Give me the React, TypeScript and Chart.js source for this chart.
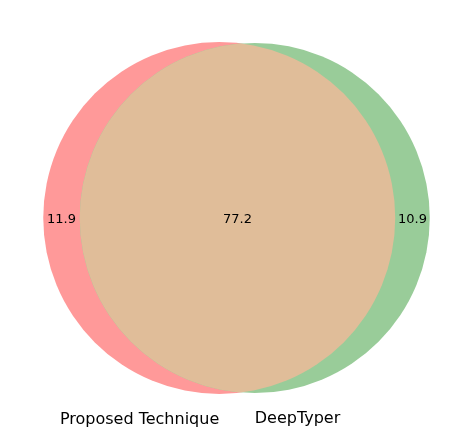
import React, { useEffect, useRef } from 'react';
import { Chart, registerables, Plugin } from 'chart.js';

Chart.register(...registerables);

// two-set venn: sizes of the regions
const setNames = ['Proposed Technique', 'DeepTyper'];
const onlyA = 11.9;
const onlyB = 10.9;
const bothAB = 77.2;

const colorA = '#ff9999';
const colorB = '#99cc99';
const colorAB = '#e0bd99';

const W = 474;
const H = 439;
const RADIUS_PX = 176; // pixel radius of set A
const CENTER_Y_PX = 218;

// circle geometry from the region sizes (area-proportional, like matplotlib_venn)
const rA = Math.sqrt((onlyA + bothAB) / Math.PI);
const rB = Math.sqrt((onlyB + bothAB) / Math.PI);

function lensArea(d: number) {
  const a = rA * rA * Math.acos((d * d + rA * rA - rB * rB) / (2 * d * rA));
  const b = rB * rB * Math.acos((d * d + rB * rB - rA * rA) / (2 * d * rB));
  const c = 0.5 * Math.sqrt((-d + rA + rB) * (d + rA - rB) * (d - rA + rB) * (d + rA + rB));
  return a + b - c;
}

function findDistance() {
  let lo = Math.abs(rA - rB) + 1e-9;
  let hi = rA + rB - 1e-9;
  for (let i = 0; i < 80; i++) {
    const mid = (lo + hi) / 2;
    if (lensArea(mid) > bothAB) lo = mid;
    else hi = mid;
  }
  return (lo + hi) / 2;
}

const dist = findDistance();
const cA = -dist / 2;
const cB = dist / 2;
const ppu = RADIUS_PX / rA;

const vennPlugin: Plugin = {
  id: 'venn',
  afterDraw(chart) {
    const { ctx } = chart;
    const x = chart.scales.x;
    const y = chart.scales.y;
    const px = (v: number) => x.getPixelForValue(v);
    const py = (v: number) => y.getPixelForValue(v);
    const len = (v: number) => x.getPixelForValue(v) - x.getPixelForValue(0);

    const circle = (cx: number, r: number) => {
      ctx.beginPath();
      ctx.arc(px(cx), py(0), len(r), 0, Math.PI * 2);
    };

    ctx.save();
    circle(cA, rA);
    ctx.fillStyle = colorA;
    ctx.fill();
    circle(cB, rB);
    ctx.fillStyle = colorB;
    ctx.fill();

    ctx.save();
    circle(cA, rA);
    ctx.clip();
    circle(cB, rB);
    ctx.fillStyle = colorAB;
    ctx.fill();
    ctx.restore();

    // region labels
    ctx.fillStyle = '#000';
    ctx.font = '13px "DejaVu Sans"';
    ctx.textAlign = 'center';
    ctx.textBaseline = 'alphabetic';
    const leftA = cA - rA, rightA = cA + rA, leftB = cB - rB, rightB = cB + rB;
    const regions: [number, number][] = [
      [(leftA + leftB) / 2, onlyA],
      [(leftB + rightA) / 2, bothAB],
      [(rightA + rightB) / 2, onlyB],
    ];
    regions.forEach(([pos, val]) => {
      const txt = String(val);
      const m = ctx.measureText(txt);
      const base = py(0) + (m.actualBoundingBoxAscent - m.actualBoundingBoxDescent) / 2;
      ctx.fillText(txt, px(pos), base);
    });

    // set labels below the circles
    ctx.font = '16px "DejaVu Sans"';
    const pad = 0.1 * (rA + rB) / 2;
    [[cA, rA, 'right'], [cB, rB, 'left']].forEach(([c, r, align], i) => {
      ctx.textAlign = align as CanvasTextAlign;
      const m = ctx.measureText(setNames[i]);
      const top = py(-(r as number) - pad);
      ctx.fillText(setNames[i], px(c as number), top + m.actualBoundingBoxAscent);
    });
    ctx.restore();
  },
};

export default function App() {
  const canvasRef = useRef<HTMLCanvasElement>(null);

  useEffect(() => {
    if (!canvasRef.current) return;
    const chart = new Chart(canvasRef.current, {
      type: 'scatter',
      data: { datasets: [] },
      options: {
        animation: false,
        responsive: true,
        maintainAspectRatio: false,
        events: [],
        layout: { padding: 0 },
        plugins: { legend: { display: false }, tooltip: { enabled: false } },
        scales: {
          x: { type: 'linear', display: false, min: -(W / 2) / ppu, max: (W / 2) / ppu },
          y: { type: 'linear', display: false, min: -(H - CENTER_Y_PX) / ppu, max: CENTER_Y_PX / ppu },
        },
      },
      plugins: [vennPlugin],
    });
    return () => chart.destroy();
  }, []);

  return (
    <div style={{ position: 'fixed', left: 0, top: 0, width: W, height: H, background: '#fff' }}>
      <canvas ref={canvasRef} />
    </div>
  );
}
